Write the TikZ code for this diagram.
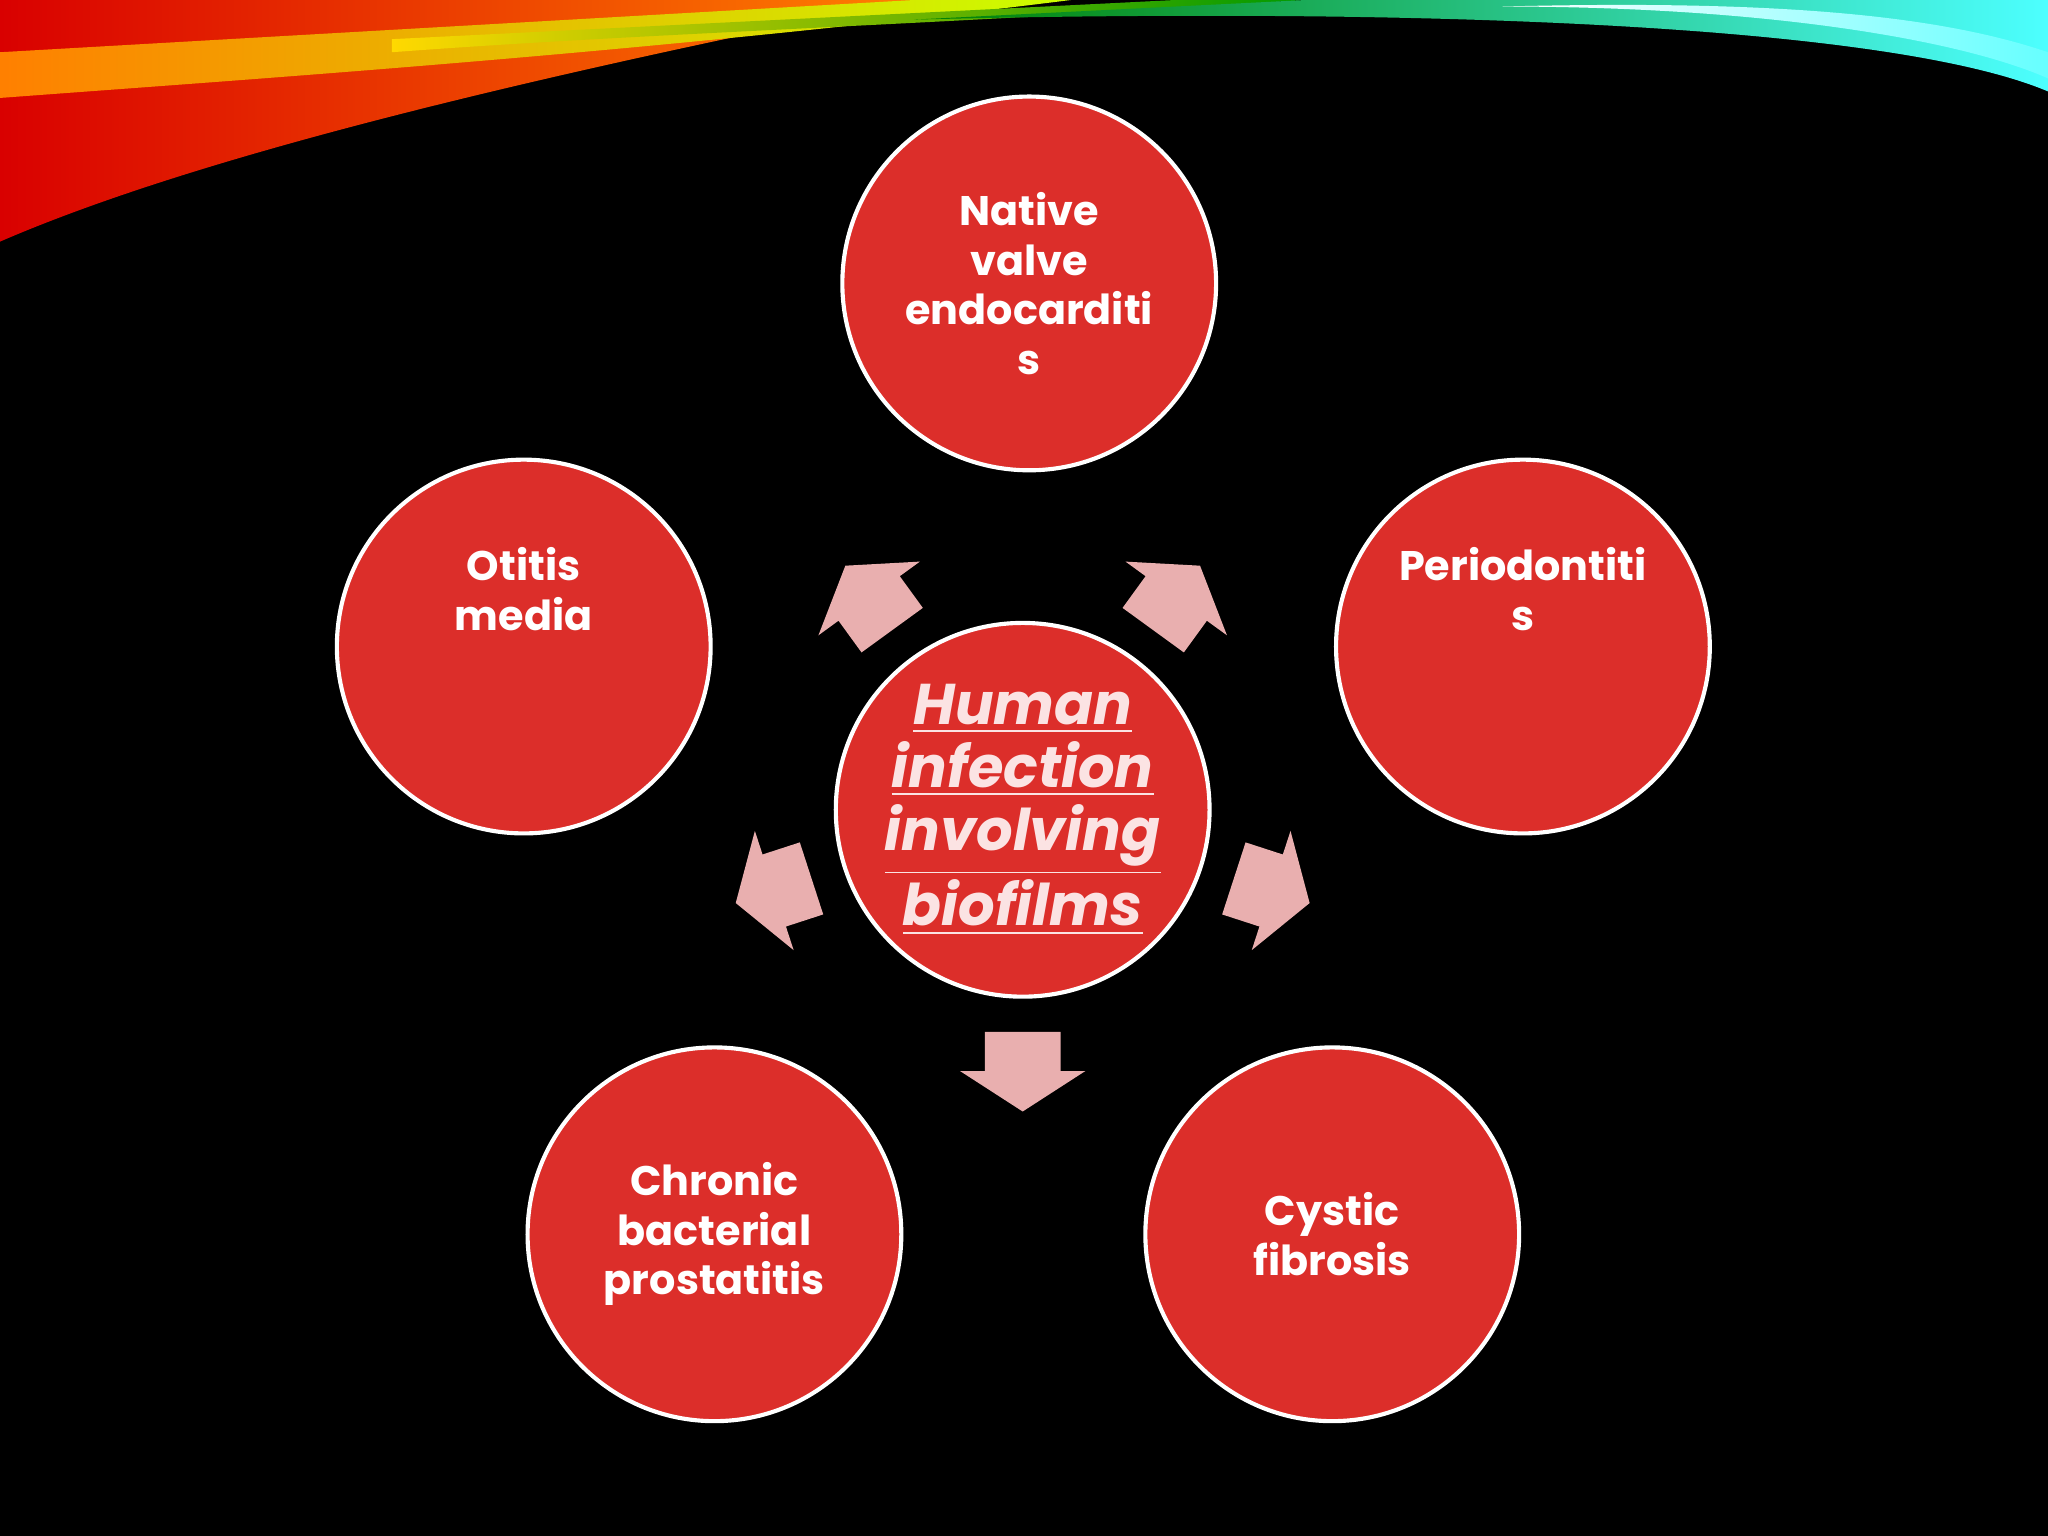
\documentclass[tikz,border=0pt]{standalone}
\usepackage{fontspec}
\setmainfont{Poppins}
\newcommand\myul[1]{$\underline{\hbox{#1}}$}
\begin{document}
\begin{tikzpicture}[x=0.01cm,y=-0.01cm,
  circ/.style={circle,fill=cred,draw=white,line width=0.9pt,minimum size=2.86cm,inner sep=0pt,align=center,text=white,font=\fontsize{9}{10.8}\selectfont\bfseries}]
\definecolor{cred}{HTML}{DC2E2A}
\definecolor{apink}{HTML}{E9AFAF}
\definecolor{ctxt}{HTML}{FBE3E3}
\fill[black] (0,0) rectangle (1568,1176);
\useasboundingbox (0,0) rectangle (1568,1176);
% rainbow streaks
\shade[left color=red!85!black,right color=orange] (0,0) -- (700,0) .. controls (400,60) and (150,120) .. (0,185) -- cycle;
\shade[left color=orange,right color=yellow!80!green] (0,40) -- (700,0) -- (820,0) .. controls (500,40) and (200,60) .. (0,75) -- cycle;
\shade[left color=yellow!70!orange,right color=green!60!black] (300,30) -- (900,0) -- (1000,0) .. controls (700,20) and (500,25) .. (300,40) -- cycle;
\shade[left color=green!50!black,right color=cyan!70!white] (700,15) -- (1000,0) -- (1568,0) -- (1568,70) .. controls (1450,20) and (1100,5) .. (700,15) -- cycle;
\shade[left color=white,right color=cyan!60!white] (1150,5) .. controls (1350,5) and (1500,30) .. (1568,60) -- (1568,40) .. controls (1480,10) and (1350,0) .. (1150,5) -- cycle;
% circles
\node[circ] (top) at (788,217) {Native\\valve\\endocarditi\\s};
\node[circ] (left) at (401,495) {Otitis\\media\\[1.6em]\mbox{}};
\node[circ] (right) at (1166,495) {Periodontiti\\s\\[1.6em]\mbox{}};
\node[circ] (bl) at (547,945) {Chronic\\bacterial\\prostatitis};
\node[circ] (br) at (1020,945) {Cystic\\fibrosis};
\node[circ,text=ctxt,font=\fontsize{12.5}{13.7}\selectfont\bfseries\itshape] (ctr) at (783,620) {\myul{Human}\\\myul{infection}\\\myul{involving}\\\myul{biofilms}};
% block arrows
\foreach \a in {90,18,162,-126,-54}{
  \begin{scope}[shift={(ctr.center)},rotate=-\a]
    \fill[apink] (170,-29) -- (200,-29) -- (200,-48) -- (231,0) -- (200,48) -- (200,29) -- (170,29) -- cycle;
  \end{scope}
}
\end{tikzpicture}
\end{document}
